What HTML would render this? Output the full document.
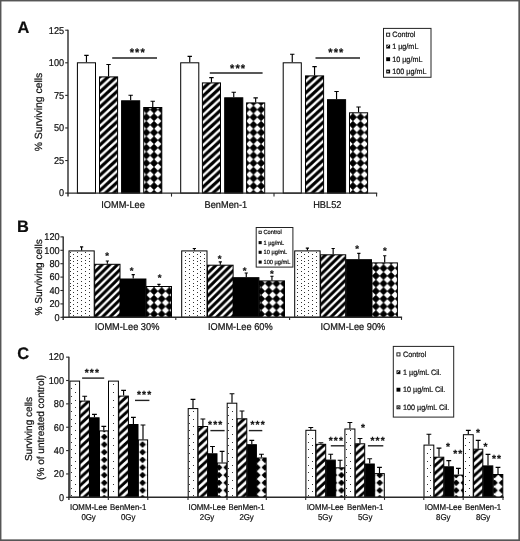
<!DOCTYPE html>
<html lang="en">
<head>
<meta charset="utf-8">
<title>Figure</title>
<style>
html,body{margin:0;padding:0;background:#fff;}
body{width:520px;height:541px;overflow:hidden;position:relative;}
svg{position:absolute;left:0;top:0;display:block;}
svg text{font-family:"Liberation Sans",sans-serif;fill:#111;stroke:#111;stroke-width:0.22px;text-rendering:geometricPrecision;}
</style>
</head>
<body>
<svg width="520" height="541" viewBox="0 0 520 541">
<defs>
<filter id="soft" x="0" y="0" width="520" height="541" filterUnits="userSpaceOnUse"><feGaussianBlur stdDeviation="0.3"/></filter>
<pattern id="h1" patternUnits="userSpaceOnUse" x="99.9" y="110.92" width="8.27" height="7.58"><rect width="8.27" height="7.58" fill="#000"/><path d="M-8.27 7.58L8.27 -7.58M-8.27 15.16L16.54 -7.58M0 15.16L16.54 0" stroke="#fff" stroke-width="2.35" fill="none"/></pattern>
<pattern id="d2" patternUnits="userSpaceOnUse" x="150.2" y="113.4" width="7.65" height="7.65"><rect width="7.65" height="7.65" fill="#000"/><path d="M-3.6 0L0 -3.6L3.6 0L0 3.6ZM4.05 0L7.65 -3.6L11.25 0L7.65 3.6ZM-3.6 7.65L0 4.05L3.6 7.65L0 11.25ZM4.05 7.65L7.65 4.05L11.25 7.65L7.65 11.25Z" fill="#fff"/></pattern>
<pattern id="h3" patternUnits="userSpaceOnUse" x="95" y="283" width="7.62" height="7.5"><rect width="7.62" height="7.5" fill="#000"/><path d="M-7.62 7.5L7.62 -7.5M-7.62 15L15.24 -7.5M0 15L15.24 0" stroke="#fff" stroke-width="2.3" fill="none"/></pattern>
<pattern id="d4" patternUnits="userSpaceOnUse" x="150.2" y="295" width="7.65" height="7.65"><rect width="7.65" height="7.65" fill="#000"/><path d="M-3.6 0L0 -3.6L3.6 0L0 3.6ZM4.05 0L7.65 -3.6L11.25 0L7.65 3.6ZM-3.6 7.65L0 4.05L3.6 7.65L0 11.25ZM4.05 7.65L7.65 4.05L11.25 7.65L7.65 11.25Z" fill="#fff"/></pattern>
<pattern id="h5" patternUnits="userSpaceOnUse" x="79.6" y="405.65" width="8.33" height="7.65"><rect width="8.33" height="7.65" fill="#000"/><path d="M-8.33 7.65L8.33 -7.65M-8.33 15.3L16.67 -7.65M0 15.3L16.67 0" stroke="#fff" stroke-width="2.65" fill="none"/></pattern>
<pattern id="d6" patternUnits="userSpaceOnUse" x="154.03" y="440.7" width="7.65" height="7.65"><rect width="7.65" height="7.65" fill="#000"/><path d="M-4.28 0L0 -4.28L4.28 0L0 4.28ZM3.37 0L7.65 -4.28L11.93 0L7.65 4.28ZM-4.28 7.65L0 3.37L4.28 7.65L0 11.93ZM3.37 7.65L7.65 3.37L11.93 7.65L7.65 11.93Z" fill="#fff"/></pattern>
</defs>
<g filter="url(#soft)">
<rect x="-5" y="-5" width="530" height="551" fill="#565656"/>
<rect x="1.45" y="1.45" width="516.9" height="537.9" fill="#fff"/>
<text font-size="16.73" text-anchor="start" font-weight="bold" transform="translate(17.6 33) scale(0.98 1)">A</text>
<path d="M65.2 193.1L68 193.1" stroke="#2a2a2a" stroke-width="1.1" fill="none"/>
<text font-size="9.9" text-anchor="end" transform="translate(64.2 196.4) scale(0.93 1)">0</text>
<path d="M65.2 160.53L68 160.53" stroke="#2a2a2a" stroke-width="1.1" fill="none"/>
<text font-size="9.9" text-anchor="end" transform="translate(64.2 163.83) scale(0.93 1)">25</text>
<path d="M65.2 127.95L68 127.95" stroke="#2a2a2a" stroke-width="1.1" fill="none"/>
<text font-size="9.9" text-anchor="end" transform="translate(64.2 131.25) scale(0.93 1)">50</text>
<path d="M65.2 95.38L68 95.38" stroke="#2a2a2a" stroke-width="1.1" fill="none"/>
<text font-size="9.9" text-anchor="end" transform="translate(64.2 98.67) scale(0.93 1)">75</text>
<path d="M65.2 62.8L68 62.8" stroke="#2a2a2a" stroke-width="1.1" fill="none"/>
<text font-size="9.9" text-anchor="end" transform="translate(64.2 66.1) scale(0.93 1)">100</text>
<path d="M65.2 30.22L68 30.22" stroke="#2a2a2a" stroke-width="1.1" fill="none"/>
<text font-size="9.9" text-anchor="end" transform="translate(64.2 33.52) scale(0.93 1)">125</text>
<text x="42.2" y="112" font-size="10.4" text-anchor="middle" transform="rotate(-90 42.2 112)">% Surviving cells</text>
<path d="M86.45 62.3V55.3M84.25 55.3H88.65" stroke="#000" stroke-width="1.15" fill="none"/>
<rect x="77.4" y="62.8" width="18.1" height="130.3" fill="#fff" stroke="#000" stroke-width="1"/>
<path d="M108.55 76.4V64.5M106.35 64.5H110.75" stroke="#000" stroke-width="1.15" fill="none"/>
<rect x="99.5" y="76.9" width="18.1" height="116.2" fill="url(#h1)" stroke="#000" stroke-width="1"/>
<path d="M130.65 100.3V95.2M128.45 95.2H132.85" stroke="#000" stroke-width="1.15" fill="none"/>
<rect x="121.6" y="100.8" width="18.1" height="92.3" fill="#000" stroke="#000" stroke-width="1"/>
<path d="M152.75 107V101.2M150.55 101.2H154.95" stroke="#000" stroke-width="1.15" fill="none"/>
<rect x="143.7" y="107.5" width="18.1" height="85.6" fill="url(#d2)" stroke="#000" stroke-width="1"/>
<path d="M189.75 62.3V56.3M187.55 56.3H191.95" stroke="#000" stroke-width="1.15" fill="none"/>
<rect x="180.7" y="62.8" width="18.1" height="130.3" fill="#fff" stroke="#000" stroke-width="1"/>
<path d="M211.45 82.4V77.6M209.25 77.6H213.65" stroke="#000" stroke-width="1.15" fill="none"/>
<rect x="202.4" y="82.9" width="18.1" height="110.2" fill="url(#h1)" stroke="#000" stroke-width="1"/>
<path d="M233.75 97.3V92.2M231.55 92.2H235.95" stroke="#000" stroke-width="1.15" fill="none"/>
<rect x="224.7" y="97.8" width="18.1" height="95.3" fill="#000" stroke="#000" stroke-width="1"/>
<path d="M255.65 102.4V97.8M253.45 97.8H257.85" stroke="#000" stroke-width="1.15" fill="none"/>
<rect x="246.6" y="102.9" width="18.1" height="90.2" fill="url(#d2)" stroke="#000" stroke-width="1"/>
<path d="M292.25 62.3V54.2M290.05 54.2H294.45" stroke="#000" stroke-width="1.15" fill="none"/>
<rect x="283.2" y="62.8" width="18.1" height="130.3" fill="#fff" stroke="#000" stroke-width="1"/>
<path d="M314.55 75.4V66.6M312.35 66.6H316.75" stroke="#000" stroke-width="1.15" fill="none"/>
<rect x="305.5" y="75.9" width="18.1" height="117.2" fill="url(#h1)" stroke="#000" stroke-width="1"/>
<path d="M336.55 99.2V91.5M334.35 91.5H338.75" stroke="#000" stroke-width="1.15" fill="none"/>
<rect x="327.5" y="99.7" width="18.1" height="93.4" fill="#000" stroke="#000" stroke-width="1"/>
<path d="M358.55 112.3V107M356.35 107H360.75" stroke="#000" stroke-width="1.15" fill="none"/>
<rect x="349.5" y="112.8" width="18.1" height="80.3" fill="url(#d2)" stroke="#000" stroke-width="1"/>
<path d="M68 29.72L68 196.6" stroke="#2a2a2a" stroke-width="1.4" fill="none"/>
<path d="M67.3 193.1L377.2 193.1" stroke="#2a2a2a" stroke-width="1.4" fill="none"/>
<path d="M171.5 193.1L171.5 196.6" stroke="#2a2a2a" stroke-width="1.1" fill="none"/>
<path d="M274 193.1L274 196.6" stroke="#2a2a2a" stroke-width="1.1" fill="none"/>
<path d="M376.6 193.1L376.6 196.6" stroke="#2a2a2a" stroke-width="1.1" fill="none"/>
<text font-size="9.95" text-anchor="middle" transform="translate(123 208) scale(0.93 1)">IOMM-Lee</text>
<text font-size="9.95" text-anchor="middle" transform="translate(225.8 208) scale(0.93 1)">BenMen-1</text>
<text font-size="9.95" text-anchor="middle" transform="translate(327.3 208) scale(0.93 1)">HBL52</text>
<path d="M112.2 57.9L157 57.9" stroke="#222" stroke-width="1.5" fill="none"/>
<text font-size="11" text-anchor="middle" font-weight="bold" transform="translate(137.72 56.33) scale(1 1)" fill="#111" letter-spacing="1.05">***</text>
<path d="M209.8 73.1L262.6 73.1" stroke="#222" stroke-width="1.5" fill="none"/>
<text font-size="11" text-anchor="middle" font-weight="bold" transform="translate(238.12 71.52) scale(1 1)" fill="#111" letter-spacing="1.05">***</text>
<path d="M315.5 57.9L360 57.9" stroke="#222" stroke-width="1.5" fill="none"/>
<text font-size="11" text-anchor="middle" font-weight="bold" transform="translate(336.32 56.33) scale(1 1)" fill="#111" letter-spacing="1.05">***</text>
<rect x="383.5" y="28.4" width="47.5" height="48.9" fill="#fff" stroke="#222" stroke-width="1"/>
<rect x="386.6" y="33.15" width="3.1" height="3.1" fill="#fff" stroke="#111" stroke-width="0.9"/>
<text font-size="7.76" text-anchor="start" transform="translate(392.2 37.3) scale(0.93 1)">Control</text>
<rect x="386.2" y="44.65" width="3.9" height="3.9" fill="#111"/>
<path d="M386.8 46.8L388.9 45.15" stroke="#fff" stroke-width="0.9"/>
<text font-size="7.76" text-anchor="start" transform="translate(392.2 49.2) scale(0.93 1)">1 µg/mL</text>
<rect x="386.2" y="57.25" width="3.9" height="3.9" fill="#000"/>
<text font-size="7.76" text-anchor="start" transform="translate(392.2 61.8) scale(0.93 1)">10 µg/mL</text>
<rect x="386.2" y="69.55" width="3.9" height="3.9" fill="#111"/>
<rect x="387.3" y="70.9" width="1.3" height="1.3" fill="#fff"/>
<text font-size="7.76" text-anchor="start" transform="translate(392.2 74.1) scale(0.93 1)">100 µg/mL</text>
<text font-size="16.73" text-anchor="start" font-weight="bold" transform="translate(17 232) scale(0.98 1)">B</text>
<path d="M60.4 317.3L63.2 317.3" stroke="#2a2a2a" stroke-width="1.1" fill="none"/>
<text font-size="9.9" text-anchor="end" transform="translate(59.6 320.6) scale(0.93 1)">0</text>
<path d="M60.4 303.9L63.2 303.9" stroke="#2a2a2a" stroke-width="1.1" fill="none"/>
<text font-size="9.9" text-anchor="end" transform="translate(59.6 307.2) scale(0.93 1)">20</text>
<path d="M60.4 290.5L63.2 290.5" stroke="#2a2a2a" stroke-width="1.1" fill="none"/>
<text font-size="9.9" text-anchor="end" transform="translate(59.6 293.8) scale(0.93 1)">40</text>
<path d="M60.4 277.1L63.2 277.1" stroke="#2a2a2a" stroke-width="1.1" fill="none"/>
<text font-size="9.9" text-anchor="end" transform="translate(59.6 280.4) scale(0.93 1)">60</text>
<path d="M60.4 263.7L63.2 263.7" stroke="#2a2a2a" stroke-width="1.1" fill="none"/>
<text font-size="9.9" text-anchor="end" transform="translate(59.6 267) scale(0.93 1)">80</text>
<path d="M60.4 250.3L63.2 250.3" stroke="#2a2a2a" stroke-width="1.1" fill="none"/>
<text font-size="9.9" text-anchor="end" transform="translate(59.6 253.6) scale(0.93 1)">100</text>
<path d="M60.4 236.9L63.2 236.9" stroke="#2a2a2a" stroke-width="1.1" fill="none"/>
<text font-size="9.9" text-anchor="end" transform="translate(59.6 240.2) scale(0.93 1)">120</text>
<text x="41.8" y="277.4" font-size="10.1" text-anchor="middle" transform="rotate(-90 41.8 277.4)">% Surviving cells</text>
<path d="M81.6 250.4V246.9M80 246.9H83.2" stroke="#000" stroke-width="1.15" fill="none"/>
<rect x="69" y="250.9" width="25.2" height="66.4" fill="#fff" stroke="#000" stroke-width="1"/>
<path d="M70 252h1v1h-1zM70 256h1v1h-1zM70 260h1v1h-1zM70 263h1v1h-1zM70 267h1v1h-1zM70 271h1v1h-1zM70 275h1v1h-1zM70 279h1v1h-1zM70 283h1v1h-1zM70 286h1v1h-1zM70 290h1v1h-1zM70 294h1v1h-1zM70 298h1v1h-1zM70 302h1v1h-1zM70 306h1v1h-1zM70 310h1v1h-1zM70 313h1v1h-1zM77 252h1v1h-1zM77 256h1v1h-1zM77 260h1v1h-1zM77 263h1v1h-1zM77 267h1v1h-1zM77 271h1v1h-1zM77 275h1v1h-1zM77 279h1v1h-1zM77 283h1v1h-1zM77 286h1v1h-1zM77 290h1v1h-1zM77 294h1v1h-1zM77 298h1v1h-1zM77 302h1v1h-1zM77 306h1v1h-1zM77 310h1v1h-1zM77 313h1v1h-1zM85 252h1v1h-1zM85 256h1v1h-1zM85 260h1v1h-1zM85 263h1v1h-1zM85 267h1v1h-1zM85 271h1v1h-1zM85 275h1v1h-1zM85 279h1v1h-1zM85 283h1v1h-1zM85 286h1v1h-1zM85 290h1v1h-1zM85 294h1v1h-1zM85 298h1v1h-1zM85 302h1v1h-1zM85 306h1v1h-1zM85 310h1v1h-1zM85 313h1v1h-1zM73 254h1v1h-1zM73 258h1v1h-1zM73 261h1v1h-1zM73 265h1v1h-1zM73 269h1v1h-1zM73 273h1v1h-1zM73 277h1v1h-1zM73 281h1v1h-1zM73 285h1v1h-1zM73 288h1v1h-1zM73 292h1v1h-1zM73 296h1v1h-1zM73 300h1v1h-1zM73 304h1v1h-1zM73 308h1v1h-1zM73 311h1v1h-1zM73 315h1v1h-1zM81 254h1v1h-1zM81 258h1v1h-1zM81 261h1v1h-1zM81 265h1v1h-1zM81 269h1v1h-1zM81 273h1v1h-1zM81 277h1v1h-1zM81 281h1v1h-1zM81 285h1v1h-1zM81 288h1v1h-1zM81 292h1v1h-1zM81 296h1v1h-1zM81 300h1v1h-1zM81 304h1v1h-1zM81 308h1v1h-1zM81 311h1v1h-1zM81 315h1v1h-1zM89 254h1v1h-1zM89 258h1v1h-1zM89 261h1v1h-1zM89 265h1v1h-1zM89 269h1v1h-1zM89 273h1v1h-1zM89 277h1v1h-1zM89 281h1v1h-1zM89 285h1v1h-1zM89 288h1v1h-1zM89 292h1v1h-1zM89 296h1v1h-1zM89 300h1v1h-1zM89 304h1v1h-1zM89 308h1v1h-1zM89 311h1v1h-1zM89 315h1v1h-1z" fill="#333"/>
<path d="M107.35 263.8V261M105.75 261H108.95" stroke="#000" stroke-width="1.15" fill="none"/>
<rect x="94.7" y="264.3" width="25.3" height="53" fill="url(#h3)" stroke="#000" stroke-width="1"/>
<path d="M133.2 278.5V274.6M131.6 274.6H134.8" stroke="#000" stroke-width="1.15" fill="none"/>
<rect x="120.5" y="279" width="25.4" height="38.3" fill="#000" stroke="#000" stroke-width="1"/>
<path d="M158.95 286V284.3M157.35 284.3H160.55" stroke="#000" stroke-width="1.15" fill="none"/>
<rect x="146.4" y="286.5" width="25.1" height="30.8" fill="url(#d4)" stroke="#000" stroke-width="1"/>
<path d="M194.35 250.4V248.5M192.75 248.5H195.95" stroke="#000" stroke-width="1.15" fill="none"/>
<rect x="181.7" y="250.9" width="25.3" height="66.4" fill="#fff" stroke="#000" stroke-width="1"/>
<path d="M185 252h1v1h-1zM185 256h1v1h-1zM185 260h1v1h-1zM185 263h1v1h-1zM185 267h1v1h-1zM185 271h1v1h-1zM185 275h1v1h-1zM185 279h1v1h-1zM185 283h1v1h-1zM185 286h1v1h-1zM185 290h1v1h-1zM185 294h1v1h-1zM185 298h1v1h-1zM185 302h1v1h-1zM185 306h1v1h-1zM185 310h1v1h-1zM185 313h1v1h-1zM193 252h1v1h-1zM193 256h1v1h-1zM193 260h1v1h-1zM193 263h1v1h-1zM193 267h1v1h-1zM193 271h1v1h-1zM193 275h1v1h-1zM193 279h1v1h-1zM193 283h1v1h-1zM193 286h1v1h-1zM193 290h1v1h-1zM193 294h1v1h-1zM193 298h1v1h-1zM193 302h1v1h-1zM193 306h1v1h-1zM193 310h1v1h-1zM193 313h1v1h-1zM200 252h1v1h-1zM200 256h1v1h-1zM200 260h1v1h-1zM200 263h1v1h-1zM200 267h1v1h-1zM200 271h1v1h-1zM200 275h1v1h-1zM200 279h1v1h-1zM200 283h1v1h-1zM200 286h1v1h-1zM200 290h1v1h-1zM200 294h1v1h-1zM200 298h1v1h-1zM200 302h1v1h-1zM200 306h1v1h-1zM200 310h1v1h-1zM200 313h1v1h-1zM189 254h1v1h-1zM189 258h1v1h-1zM189 261h1v1h-1zM189 265h1v1h-1zM189 269h1v1h-1zM189 273h1v1h-1zM189 277h1v1h-1zM189 281h1v1h-1zM189 285h1v1h-1zM189 288h1v1h-1zM189 292h1v1h-1zM189 296h1v1h-1zM189 300h1v1h-1zM189 304h1v1h-1zM189 308h1v1h-1zM189 311h1v1h-1zM189 315h1v1h-1zM197 254h1v1h-1zM197 258h1v1h-1zM197 261h1v1h-1zM197 265h1v1h-1zM197 269h1v1h-1zM197 273h1v1h-1zM197 277h1v1h-1zM197 281h1v1h-1zM197 285h1v1h-1zM197 288h1v1h-1zM197 292h1v1h-1zM197 296h1v1h-1zM197 300h1v1h-1zM197 304h1v1h-1zM197 308h1v1h-1zM197 311h1v1h-1zM197 315h1v1h-1zM204 254h1v1h-1zM204 258h1v1h-1zM204 261h1v1h-1zM204 265h1v1h-1zM204 269h1v1h-1zM204 273h1v1h-1zM204 277h1v1h-1zM204 281h1v1h-1zM204 285h1v1h-1zM204 288h1v1h-1zM204 292h1v1h-1zM204 296h1v1h-1zM204 300h1v1h-1zM204 304h1v1h-1zM204 308h1v1h-1zM204 311h1v1h-1zM204 315h1v1h-1z" fill="#333"/>
<path d="M220.3 264.7V261.9M218.7 261.9H221.9" stroke="#000" stroke-width="1.15" fill="none"/>
<rect x="207.5" y="265.2" width="25.6" height="52.1" fill="url(#h3)" stroke="#000" stroke-width="1"/>
<path d="M246.25 277.2V273M244.65 273H247.85" stroke="#000" stroke-width="1.15" fill="none"/>
<rect x="233.6" y="277.7" width="25.3" height="39.6" fill="#000" stroke="#000" stroke-width="1"/>
<path d="M271.95 280.4V276.2M270.35 276.2H273.55" stroke="#000" stroke-width="1.15" fill="none"/>
<rect x="259.4" y="280.9" width="25.1" height="36.4" fill="url(#d4)" stroke="#000" stroke-width="1"/>
<path d="M307.4 250.4V248.1M305.8 248.1H309" stroke="#000" stroke-width="1.15" fill="none"/>
<rect x="294.7" y="250.9" width="25.4" height="66.4" fill="#fff" stroke="#000" stroke-width="1"/>
<path d="M301 252h1v1h-1zM301 256h1v1h-1zM301 260h1v1h-1zM301 263h1v1h-1zM301 267h1v1h-1zM301 271h1v1h-1zM301 275h1v1h-1zM301 279h1v1h-1zM301 283h1v1h-1zM301 286h1v1h-1zM301 290h1v1h-1zM301 294h1v1h-1zM301 298h1v1h-1zM301 302h1v1h-1zM301 306h1v1h-1zM301 310h1v1h-1zM301 313h1v1h-1zM308 252h1v1h-1zM308 256h1v1h-1zM308 260h1v1h-1zM308 263h1v1h-1zM308 267h1v1h-1zM308 271h1v1h-1zM308 275h1v1h-1zM308 279h1v1h-1zM308 283h1v1h-1zM308 286h1v1h-1zM308 290h1v1h-1zM308 294h1v1h-1zM308 298h1v1h-1zM308 302h1v1h-1zM308 306h1v1h-1zM308 310h1v1h-1zM308 313h1v1h-1zM316 252h1v1h-1zM316 256h1v1h-1zM316 260h1v1h-1zM316 263h1v1h-1zM316 267h1v1h-1zM316 271h1v1h-1zM316 275h1v1h-1zM316 279h1v1h-1zM316 283h1v1h-1zM316 286h1v1h-1zM316 290h1v1h-1zM316 294h1v1h-1zM316 298h1v1h-1zM316 302h1v1h-1zM316 306h1v1h-1zM316 310h1v1h-1zM316 313h1v1h-1zM297 254h1v1h-1zM297 258h1v1h-1zM297 261h1v1h-1zM297 265h1v1h-1zM297 269h1v1h-1zM297 273h1v1h-1zM297 277h1v1h-1zM297 281h1v1h-1zM297 285h1v1h-1zM297 288h1v1h-1zM297 292h1v1h-1zM297 296h1v1h-1zM297 300h1v1h-1zM297 304h1v1h-1zM297 308h1v1h-1zM297 311h1v1h-1zM297 315h1v1h-1zM304 254h1v1h-1zM304 258h1v1h-1zM304 261h1v1h-1zM304 265h1v1h-1zM304 269h1v1h-1zM304 273h1v1h-1zM304 277h1v1h-1zM304 281h1v1h-1zM304 285h1v1h-1zM304 288h1v1h-1zM304 292h1v1h-1zM304 296h1v1h-1zM304 300h1v1h-1zM304 304h1v1h-1zM304 308h1v1h-1zM304 311h1v1h-1zM304 315h1v1h-1zM312 254h1v1h-1zM312 258h1v1h-1zM312 261h1v1h-1zM312 265h1v1h-1zM312 269h1v1h-1zM312 273h1v1h-1zM312 277h1v1h-1zM312 281h1v1h-1zM312 285h1v1h-1zM312 288h1v1h-1zM312 292h1v1h-1zM312 296h1v1h-1zM312 300h1v1h-1zM312 304h1v1h-1zM312 308h1v1h-1zM312 311h1v1h-1zM312 315h1v1h-1z" fill="#333"/>
<path d="M333.15 254.3V248.5M331.55 248.5H334.75" stroke="#000" stroke-width="1.15" fill="none"/>
<rect x="320.6" y="254.8" width="25.1" height="62.5" fill="url(#h3)" stroke="#000" stroke-width="1"/>
<path d="M358.85 259.2V253.4M357.25 253.4H360.45" stroke="#000" stroke-width="1.15" fill="none"/>
<rect x="346.2" y="259.7" width="25.3" height="57.6" fill="#000" stroke="#000" stroke-width="1"/>
<path d="M384.7 262.4V255.7M383.1 255.7H386.3" stroke="#000" stroke-width="1.15" fill="none"/>
<rect x="372" y="262.9" width="25.4" height="54.4" fill="url(#d4)" stroke="#000" stroke-width="1"/>
<path d="M63.2 236.4L63.2 319.9" stroke="#2a2a2a" stroke-width="1.4" fill="none"/>
<path d="M62.5 317.3L402.1 317.3" stroke="#2a2a2a" stroke-width="1.4" fill="none"/>
<path d="M175.8 317.3L175.8 319.9" stroke="#2a2a2a" stroke-width="1.1" fill="none"/>
<path d="M289.6 317.3L289.6 319.9" stroke="#2a2a2a" stroke-width="1.1" fill="none"/>
<path d="M401.5 317.3L401.5 319.9" stroke="#2a2a2a" stroke-width="1.1" fill="none"/>
<text font-size="9.95" text-anchor="middle" transform="translate(127 330.3) scale(0.93 1)">IOMM-Lee 30%</text>
<text font-size="9.95" text-anchor="middle" transform="translate(240.3 330.3) scale(0.93 1)">IOMM-Lee 60%</text>
<text font-size="9.95" text-anchor="middle" transform="translate(352.9 330.3) scale(0.93 1)">IOMM-Lee 90%</text>
<text font-size="9.6" text-anchor="middle" font-weight="bold" transform="translate(107 258.62) scale(1 1)" fill="#111" letter-spacing="0">*</text>
<text font-size="9.6" text-anchor="middle" font-weight="bold" transform="translate(131.7 273.92) scale(1 1)" fill="#111" letter-spacing="0">*</text>
<text font-size="9.6" text-anchor="middle" font-weight="bold" transform="translate(159.6 281.22) scale(1 1)" fill="#111" letter-spacing="0">*</text>
<text font-size="9.6" text-anchor="middle" font-weight="bold" transform="translate(219.7 261.72) scale(1 1)" fill="#111" letter-spacing="0">*</text>
<text font-size="9.6" text-anchor="middle" font-weight="bold" transform="translate(244.6 273.92) scale(1 1)" fill="#111" letter-spacing="0">*</text>
<text font-size="9.6" text-anchor="middle" font-weight="bold" transform="translate(271.8 276.52) scale(1 1)" fill="#111" letter-spacing="0">*</text>
<text font-size="9.6" text-anchor="middle" font-weight="bold" transform="translate(357.2 251.72) scale(1 1)" fill="#111" letter-spacing="0">*</text>
<text font-size="9.6" text-anchor="middle" font-weight="bold" transform="translate(384.9 253.52) scale(1 1)" fill="#111" letter-spacing="0">*</text>
<rect x="256.2" y="227.5" width="36.7" height="39.6" fill="#fff" stroke="#222" stroke-width="1"/>
<rect x="259" y="231.15" width="2.3" height="2.3" fill="#fff" stroke="#222" stroke-width="0.9"/>
<text font-size="6.1" text-anchor="start" transform="translate(263.5 234.3) scale(0.93 1)">Control</text>
<rect x="258.6" y="241.05" width="3.1" height="3.1" fill="#111"/>
<text font-size="6.1" text-anchor="start" transform="translate(263.5 244.6) scale(0.93 1)">1 µg/mL</text>
<rect x="258.6" y="250.75" width="3.1" height="3.1" fill="#111"/>
<text font-size="6.1" text-anchor="start" transform="translate(263.5 254.3) scale(0.93 1)">10 µg/mL</text>
<rect x="258.6" y="260.55" width="3.1" height="3.1" fill="#111"/>
<text font-size="6.1" text-anchor="start" transform="translate(263.5 264.1) scale(0.93 1)">100 µg/mL</text>
<text font-size="16.73" text-anchor="start" font-weight="bold" transform="translate(17.2 358.6) scale(0.98 1)">C</text>
<path d="M66.1 497.3L68.9 497.3" stroke="#2a2a2a" stroke-width="1.1" fill="none"/>
<text font-size="9.9" text-anchor="end" transform="translate(64 500.6) scale(0.93 1)">0</text>
<path d="M66.1 473.94L68.9 473.94" stroke="#2a2a2a" stroke-width="1.1" fill="none"/>
<text font-size="9.9" text-anchor="end" transform="translate(64 477.24) scale(0.93 1)">20</text>
<path d="M66.1 450.58L68.9 450.58" stroke="#2a2a2a" stroke-width="1.1" fill="none"/>
<text font-size="9.9" text-anchor="end" transform="translate(64 453.88) scale(0.93 1)">40</text>
<path d="M66.1 427.22L68.9 427.22" stroke="#2a2a2a" stroke-width="1.1" fill="none"/>
<text font-size="9.9" text-anchor="end" transform="translate(64 430.52) scale(0.93 1)">60</text>
<path d="M66.1 403.86L68.9 403.86" stroke="#2a2a2a" stroke-width="1.1" fill="none"/>
<text font-size="9.9" text-anchor="end" transform="translate(64 407.16) scale(0.93 1)">80</text>
<path d="M66.1 380.5L68.9 380.5" stroke="#2a2a2a" stroke-width="1.1" fill="none"/>
<text font-size="9.9" text-anchor="end" transform="translate(64 383.8) scale(0.93 1)">100</text>
<path d="M66.1 357.14L68.9 357.14" stroke="#2a2a2a" stroke-width="1.1" fill="none"/>
<text font-size="9.9" text-anchor="end" transform="translate(64 360.44) scale(0.93 1)">120</text>
<text x="31.8" y="429" font-size="10.05" text-anchor="middle" transform="rotate(-90 31.8 429)">Surviving cells</text>
<text x="43.8" y="427.4" font-size="10.05" text-anchor="middle" transform="rotate(-90 43.8 427.4)">(% of untreated control)</text>
<rect x="69.9" y="381.1" width="9.7" height="116.2" fill="#fff" stroke="#000" stroke-width="1"/>
<path d="M71 388h1v1h-1zM71 396h1v1h-1zM71 403h1v1h-1zM71 411h1v1h-1zM71 419h1v1h-1zM71 426h1v1h-1zM71 434h1v1h-1zM71 442h1v1h-1zM71 449h1v1h-1zM71 457h1v1h-1zM71 465h1v1h-1zM71 472h1v1h-1zM71 480h1v1h-1zM71 488h1v1h-1zM71 495h1v1h-1zM75 384h1v1h-1zM75 392h1v1h-1zM75 400h1v1h-1zM75 407h1v1h-1zM75 415h1v1h-1zM75 423h1v1h-1zM75 430h1v1h-1zM75 438h1v1h-1zM75 445h1v1h-1zM75 453h1v1h-1zM75 461h1v1h-1zM75 468h1v1h-1zM75 476h1v1h-1zM75 484h1v1h-1zM75 491h1v1h-1z" fill="#333"/>
<path d="M84.7 400.6V396.2M82.3 396.2H87.1" stroke="#000" stroke-width="1.15" fill="none"/>
<rect x="80" y="401.1" width="9.4" height="96.2" fill="url(#h5)" stroke="#000" stroke-width="1"/>
<path d="M94.45 417.3V414.4M92.05 414.4H96.85" stroke="#000" stroke-width="1.15" fill="none"/>
<rect x="89.8" y="417.8" width="9.3" height="79.5" fill="#000" stroke="#000" stroke-width="1"/>
<path d="M103.8 430.4V426.3M101.4 426.3H106.2" stroke="#000" stroke-width="1.15" fill="none"/>
<rect x="99.5" y="430.9" width="8.6" height="66.4" fill="url(#d6)" stroke="#000" stroke-width="1"/>
<rect x="108.5" y="381.1" width="9.9" height="116.2" fill="#fff" stroke="#000" stroke-width="1"/>
<path d="M113 384h1v1h-1zM113 392h1v1h-1zM113 400h1v1h-1zM113 407h1v1h-1zM113 415h1v1h-1zM113 423h1v1h-1zM113 430h1v1h-1zM113 438h1v1h-1zM113 445h1v1h-1zM113 453h1v1h-1zM113 461h1v1h-1zM113 468h1v1h-1zM113 476h1v1h-1zM113 484h1v1h-1zM113 491h1v1h-1z" fill="#333"/>
<path d="M123.6 395.6V390.4M121.2 390.4H126" stroke="#000" stroke-width="1.15" fill="none"/>
<rect x="118.8" y="396.1" width="9.6" height="101.2" fill="url(#h5)" stroke="#000" stroke-width="1"/>
<path d="M133.4 424V417.3M131 417.3H135.8" stroke="#000" stroke-width="1.15" fill="none"/>
<rect x="128.8" y="424.5" width="9.2" height="72.8" fill="#000" stroke="#000" stroke-width="1"/>
<path d="M143 439.4V425M140.6 425H145.4" stroke="#000" stroke-width="1.15" fill="none"/>
<rect x="138.4" y="439.9" width="9.2" height="57.4" fill="url(#d6)" stroke="#000" stroke-width="1"/>
<path d="M193 408.1V399.4M190.6 399.4H195.4" stroke="#000" stroke-width="1.15" fill="none"/>
<rect x="188.2" y="408.6" width="9.6" height="88.7" fill="#fff" stroke="#000" stroke-width="1"/>
<path d="M193 411h1v1h-1zM193 419h1v1h-1zM193 426h1v1h-1zM193 434h1v1h-1zM193 442h1v1h-1zM193 449h1v1h-1zM193 457h1v1h-1zM193 465h1v1h-1zM193 472h1v1h-1zM193 480h1v1h-1zM193 488h1v1h-1zM193 495h1v1h-1zM189 415h1v1h-1zM189 423h1v1h-1zM189 430h1v1h-1zM189 438h1v1h-1zM189 445h1v1h-1zM189 453h1v1h-1zM189 461h1v1h-1zM189 468h1v1h-1zM189 476h1v1h-1zM189 484h1v1h-1zM189 491h1v1h-1z" fill="#333"/>
<path d="M202.9 426V419M200.5 419H205.3" stroke="#000" stroke-width="1.15" fill="none"/>
<rect x="198.2" y="426.5" width="9.4" height="70.8" fill="url(#h5)" stroke="#000" stroke-width="1"/>
<path d="M212.5 453.3V446.5M210.1 446.5H214.9" stroke="#000" stroke-width="1.15" fill="none"/>
<rect x="208" y="453.8" width="9" height="43.5" fill="#000" stroke="#000" stroke-width="1"/>
<path d="M222.1 462.5V451.3M219.7 451.3H224.5" stroke="#000" stroke-width="1.15" fill="none"/>
<rect x="217.4" y="463" width="9.4" height="34.3" fill="url(#d6)" stroke="#000" stroke-width="1"/>
<path d="M232 402.7V393.7M229.6 393.7H234.4" stroke="#000" stroke-width="1.15" fill="none"/>
<rect x="227.2" y="403.2" width="9.6" height="94.1" fill="#fff" stroke="#000" stroke-width="1"/>
<path d="M232 411h1v1h-1zM232 419h1v1h-1zM232 426h1v1h-1zM232 434h1v1h-1zM232 442h1v1h-1zM232 449h1v1h-1zM232 457h1v1h-1zM232 465h1v1h-1zM232 472h1v1h-1zM232 480h1v1h-1zM232 488h1v1h-1zM232 495h1v1h-1zM228 407h1v1h-1zM228 415h1v1h-1zM228 423h1v1h-1zM228 430h1v1h-1zM228 438h1v1h-1zM228 445h1v1h-1zM228 453h1v1h-1zM228 461h1v1h-1zM228 468h1v1h-1zM228 476h1v1h-1zM228 484h1v1h-1zM228 491h1v1h-1z" fill="#333"/>
<path d="M242 418.3V411M239.6 411H244.4" stroke="#000" stroke-width="1.15" fill="none"/>
<rect x="237.2" y="418.8" width="9.6" height="78.5" fill="url(#h5)" stroke="#000" stroke-width="1"/>
<path d="M251.8 444.2V440.4M249.4 440.4H254.2" stroke="#000" stroke-width="1.15" fill="none"/>
<rect x="247.2" y="444.7" width="9.2" height="52.6" fill="#000" stroke="#000" stroke-width="1"/>
<path d="M261.45 457.5V454.2M259.05 454.2H263.85" stroke="#000" stroke-width="1.15" fill="none"/>
<rect x="256.8" y="458" width="9.3" height="39.3" fill="url(#d6)" stroke="#000" stroke-width="1"/>
<path d="M310.8 429.8V427.5M308.4 427.5H313.2" stroke="#000" stroke-width="1.15" fill="none"/>
<rect x="305.9" y="430.3" width="9.8" height="67" fill="#fff" stroke="#000" stroke-width="1"/>
<path d="M308 434h1v1h-1zM308 442h1v1h-1zM308 449h1v1h-1zM308 457h1v1h-1zM308 465h1v1h-1zM308 472h1v1h-1zM308 480h1v1h-1zM308 488h1v1h-1zM308 495h1v1h-1zM312 438h1v1h-1zM312 445h1v1h-1zM312 453h1v1h-1zM312 461h1v1h-1zM312 468h1v1h-1zM312 476h1v1h-1zM312 484h1v1h-1zM312 491h1v1h-1z" fill="#333"/>
<path d="M320.9 443.8V442.7M318.5 442.7H323.3" stroke="#000" stroke-width="1.15" fill="none"/>
<rect x="316.1" y="444.3" width="9.6" height="53" fill="url(#h5)" stroke="#000" stroke-width="1"/>
<path d="M330.7 459.6V454.2M328.3 454.2H333.1" stroke="#000" stroke-width="1.15" fill="none"/>
<rect x="326.1" y="460.1" width="9.2" height="37.2" fill="#000" stroke="#000" stroke-width="1"/>
<path d="M340.1 467.3V460.2M337.7 460.2H342.5" stroke="#000" stroke-width="1.15" fill="none"/>
<rect x="335.7" y="467.8" width="8.8" height="29.5" fill="url(#d6)" stroke="#000" stroke-width="1"/>
<path d="M349.9 428.5V422.5M347.5 422.5H352.3" stroke="#000" stroke-width="1.15" fill="none"/>
<rect x="344.9" y="429" width="10" height="68.3" fill="#fff" stroke="#000" stroke-width="1"/>
<path d="M346 434h1v1h-1zM346 442h1v1h-1zM346 449h1v1h-1zM346 457h1v1h-1zM346 465h1v1h-1zM346 472h1v1h-1zM346 480h1v1h-1zM346 488h1v1h-1zM346 495h1v1h-1zM350 430h1v1h-1zM350 438h1v1h-1zM350 445h1v1h-1zM350 453h1v1h-1zM350 461h1v1h-1zM350 468h1v1h-1zM350 476h1v1h-1zM350 484h1v1h-1zM350 491h1v1h-1z" fill="#333"/>
<path d="M360 443.3V438.5M357.6 438.5H362.4" stroke="#000" stroke-width="1.15" fill="none"/>
<rect x="355.3" y="443.8" width="9.4" height="53.5" fill="url(#h5)" stroke="#000" stroke-width="1"/>
<path d="M369.7 463.5V458.7M367.3 458.7H372.1" stroke="#000" stroke-width="1.15" fill="none"/>
<rect x="365.1" y="464" width="9.2" height="33.3" fill="#000" stroke="#000" stroke-width="1"/>
<path d="M379.5 473.1V467.3M377.1 467.3H381.9" stroke="#000" stroke-width="1.15" fill="none"/>
<rect x="374.7" y="473.6" width="9.6" height="23.7" fill="url(#d6)" stroke="#000" stroke-width="1"/>
<path d="M428.9 444.6V434.2M426.5 434.2H431.3" stroke="#000" stroke-width="1.15" fill="none"/>
<rect x="424" y="445.1" width="9.8" height="52.2" fill="#fff" stroke="#000" stroke-width="1"/>
<path d="M430 449h1v1h-1zM430 457h1v1h-1zM430 465h1v1h-1zM430 472h1v1h-1zM430 480h1v1h-1zM430 488h1v1h-1zM430 495h1v1h-1zM427 453h1v1h-1zM427 461h1v1h-1zM427 468h1v1h-1zM427 476h1v1h-1zM427 484h1v1h-1zM427 491h1v1h-1z" fill="#333"/>
<path d="M439 456.7V448.1M436.6 448.1H441.4" stroke="#000" stroke-width="1.15" fill="none"/>
<rect x="434.2" y="457.2" width="9.6" height="40.1" fill="url(#h5)" stroke="#000" stroke-width="1"/>
<path d="M448.8 466.3V460.6M446.4 460.6H451.2" stroke="#000" stroke-width="1.15" fill="none"/>
<rect x="444.2" y="466.8" width="9.2" height="30.5" fill="#000" stroke="#000" stroke-width="1"/>
<path d="M458.4 474.6V468.3M456 468.3H460.8" stroke="#000" stroke-width="1.15" fill="none"/>
<rect x="453.8" y="475.1" width="9.2" height="22.2" fill="url(#d6)" stroke="#000" stroke-width="1"/>
<path d="M468.3 434.2V430.4M465.9 430.4H470.7" stroke="#000" stroke-width="1.15" fill="none"/>
<rect x="463.4" y="434.7" width="9.8" height="62.6" fill="#fff" stroke="#000" stroke-width="1"/>
<path d="M469 442h1v1h-1zM469 449h1v1h-1zM469 457h1v1h-1zM469 465h1v1h-1zM469 472h1v1h-1zM469 480h1v1h-1zM469 488h1v1h-1zM469 495h1v1h-1zM465 438h1v1h-1zM465 445h1v1h-1zM465 453h1v1h-1zM465 461h1v1h-1zM465 468h1v1h-1zM465 476h1v1h-1zM465 484h1v1h-1zM465 491h1v1h-1z" fill="#333"/>
<path d="M478.2 448.7V440.4M475.8 440.4H480.6" stroke="#000" stroke-width="1.15" fill="none"/>
<rect x="473.6" y="449.2" width="9.2" height="48.1" fill="url(#h5)" stroke="#000" stroke-width="1"/>
<path d="M488 465.4V454.4M485.6 454.4H490.4" stroke="#000" stroke-width="1.15" fill="none"/>
<rect x="483.2" y="465.9" width="9.6" height="31.4" fill="#000" stroke="#000" stroke-width="1"/>
<path d="M498 474V467.3M495.6 467.3H500.4" stroke="#000" stroke-width="1.15" fill="none"/>
<rect x="493.2" y="474.5" width="9.6" height="22.8" fill="url(#d6)" stroke="#000" stroke-width="1"/>
<path d="M68.9 356.64L68.9 499.9" stroke="#2a2a2a" stroke-width="1.4" fill="none"/>
<path d="M68.2 497.3L503.8 497.3" stroke="#2a2a2a" stroke-width="1.4" fill="none"/>
<path d="M108.3 497.3L108.3 499.9" stroke="#2a2a2a" stroke-width="1.1" fill="none"/>
<path d="M147.8 497.3L147.8 499.9" stroke="#2a2a2a" stroke-width="1.1" fill="none"/>
<path d="M188 497.3L188 499.9" stroke="#2a2a2a" stroke-width="1.1" fill="none"/>
<path d="M227 497.3L227 499.9" stroke="#2a2a2a" stroke-width="1.1" fill="none"/>
<path d="M266.3 497.3L266.3 499.9" stroke="#2a2a2a" stroke-width="1.1" fill="none"/>
<path d="M305.7 497.3L305.7 499.9" stroke="#2a2a2a" stroke-width="1.1" fill="none"/>
<path d="M344.7 497.3L344.7 499.9" stroke="#2a2a2a" stroke-width="1.1" fill="none"/>
<path d="M384.5 497.3L384.5 499.9" stroke="#2a2a2a" stroke-width="1.1" fill="none"/>
<path d="M423.8 497.3L423.8 499.9" stroke="#2a2a2a" stroke-width="1.1" fill="none"/>
<path d="M463.2 497.3L463.2 499.9" stroke="#2a2a2a" stroke-width="1.1" fill="none"/>
<path d="M503 497.3L503 499.9" stroke="#2a2a2a" stroke-width="1.1" fill="none"/>
<text font-size="8.45" text-anchor="middle" transform="translate(88.6 510.1) scale(0.93 1)">IOMM-Lee</text>
<text font-size="8.45" text-anchor="middle" transform="translate(128.2 510.1) scale(0.93 1)">BenMen-1</text>
<text font-size="8.45" text-anchor="middle" transform="translate(207 510.1) scale(0.93 1)">IOMM-Lee</text>
<text font-size="8.45" text-anchor="middle" transform="translate(246.6 510.1) scale(0.93 1)">BenMen-1</text>
<text font-size="8.45" text-anchor="middle" transform="translate(325.2 510.1) scale(0.93 1)">IOMM-Lee</text>
<text font-size="8.45" text-anchor="middle" transform="translate(365.2 510.1) scale(0.93 1)">BenMen-1</text>
<text font-size="8.45" text-anchor="middle" transform="translate(443.3 510.1) scale(0.93 1)">IOMM-Lee</text>
<text font-size="8.45" text-anchor="middle" transform="translate(483.1 510.1) scale(0.93 1)">BenMen-1</text>
<text font-size="8.45" text-anchor="middle" transform="translate(88.6 520) scale(0.93 1)">0Gy</text>
<text font-size="8.45" text-anchor="middle" transform="translate(128.2 520) scale(0.93 1)">0Gy</text>
<text font-size="8.45" text-anchor="middle" transform="translate(207 520) scale(0.93 1)">2Gy</text>
<text font-size="8.45" text-anchor="middle" transform="translate(246.6 520) scale(0.93 1)">2Gy</text>
<text font-size="8.45" text-anchor="middle" transform="translate(325.2 520) scale(0.93 1)">5Gy</text>
<text font-size="8.45" text-anchor="middle" transform="translate(365.2 520) scale(0.93 1)">5Gy</text>
<text font-size="8.45" text-anchor="middle" transform="translate(443.3 520) scale(0.93 1)">8Gy</text>
<text font-size="8.45" text-anchor="middle" transform="translate(483.1 520) scale(0.93 1)">8Gy</text>
<path d="M82.1 378.1L104.2 378.1" stroke="#222" stroke-width="1.4" fill="none"/>
<text font-size="10.2" text-anchor="middle" font-weight="bold" transform="translate(92.38 375.97) scale(1 1)" fill="#111" letter-spacing="1.15">***</text>
<path d="M135 400.4L149.4 400.4" stroke="#222" stroke-width="1.4" fill="none"/>
<text font-size="10.2" text-anchor="middle" font-weight="bold" transform="translate(144.57 398.26) scale(1 1)" fill="#111" letter-spacing="1.15">***</text>
<path d="M210.4 430.6L224.6 430.6" stroke="#222" stroke-width="1.4" fill="none"/>
<text font-size="10.2" text-anchor="middle" font-weight="bold" transform="translate(215.77 428.47) scale(1 1)" fill="#111" letter-spacing="1.15">***</text>
<path d="M248.8 430.6L262.3 430.6" stroke="#222" stroke-width="1.4" fill="none"/>
<text font-size="10.2" text-anchor="middle" font-weight="bold" transform="translate(258.07 428.47) scale(1 1)" fill="#111" letter-spacing="1.15">***</text>
<path d="M330.8 445.8L344.4 445.8" stroke="#222" stroke-width="1.4" fill="none"/>
<text font-size="10.2" text-anchor="middle" font-weight="bold" transform="translate(336.38 443.67) scale(1 1)" fill="#111" letter-spacing="1.15">***</text>
<path d="M367.9 445.8L383.3 445.8" stroke="#222" stroke-width="1.4" fill="none"/>
<text font-size="10.2" text-anchor="middle" font-weight="bold" transform="translate(378.07 443.67) scale(1 1)" fill="#111" letter-spacing="1.15">***</text>
<text font-size="10.2" text-anchor="middle" font-weight="bold" transform="translate(363.68 430.87) scale(1 1)" fill="#111" letter-spacing="1.15">*</text>
<text font-size="10.2" text-anchor="middle" font-weight="bold" transform="translate(448.47 450.47) scale(1 1)" fill="#111" letter-spacing="1.15">*</text>
<text font-size="10.2" text-anchor="middle" font-weight="bold" transform="translate(458.27 457.37) scale(1 1)" fill="#111" letter-spacing="1.15">**</text>
<text font-size="10.2" text-anchor="middle" font-weight="bold" transform="translate(478.47 435.67) scale(1 1)" fill="#111" letter-spacing="1.15">*</text>
<text font-size="10.2" text-anchor="middle" font-weight="bold" transform="translate(485.97 450.47) scale(1 1)" fill="#111" letter-spacing="1.15">*</text>
<text font-size="10.2" text-anchor="middle" font-weight="bold" transform="translate(497.07 461.67) scale(1 1)" fill="#111" letter-spacing="1.15">**</text>
<rect x="393.3" y="346.4" width="60.4" height="70.7" fill="#fff" stroke="#222" stroke-width="1"/>
<rect x="396.9" y="352.85" width="3.1" height="3.1" fill="#fff" stroke="#111" stroke-width="0.9"/>
<text font-size="7.76" text-anchor="start" transform="translate(403 357) scale(0.93 1)">Control</text>
<rect x="396.5" y="370.25" width="3.9" height="3.9" fill="#111"/>
<path d="M397.1 372.4L399.2 370.75" stroke="#fff" stroke-width="0.9"/>
<text font-size="7.76" text-anchor="start" transform="translate(403 374.8) scale(0.93 1)">1 µg/mL Cil.</text>
<rect x="396.5" y="387.75" width="3.9" height="3.9" fill="#000"/>
<text font-size="7.76" text-anchor="start" transform="translate(403 392.3) scale(0.93 1)">10 µg/mL Cil.</text>
<rect x="397" y="405.85" width="2.9" height="2.9" fill="#fff" stroke="#111" stroke-width="1"/>
<rect x="397.7" y="406.7" width="1.2" height="1.2" fill="#111"/>
<text font-size="7.76" text-anchor="start" transform="translate(403 409.9) scale(0.93 1)">100 µg/mL Cil.</text>
</g>
</svg>
</body>
</html>
